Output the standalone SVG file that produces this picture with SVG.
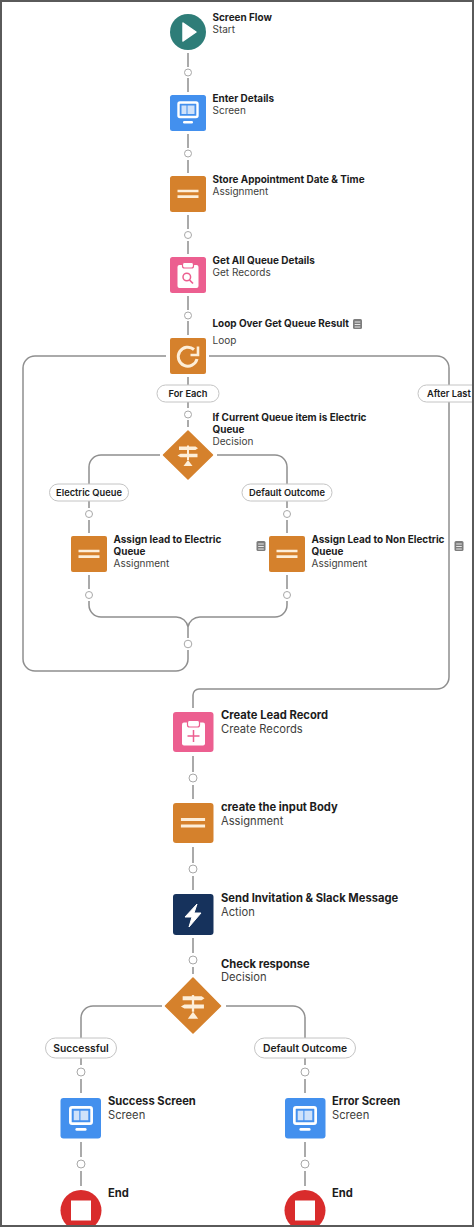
<svg xmlns="http://www.w3.org/2000/svg" width="474" height="1227" viewBox="0 0 474 1227">
<defs>
<style>
text{font-family:"Inter","Liberation Sans",sans-serif;fill:#1c1c1c}
.t{font-size:9.95px;font-weight:700}
.s{font-size:10px;fill:#3e3e3c}
.T{font-size:11.2px;font-weight:700}
.S{font-size:11.2px;fill:#3e3e3c}
.pl{font-size:9.3px;font-weight:600;text-anchor:middle}
.PL{font-size:10.3px;font-weight:600;text-anchor:middle}
.c{fill:none;stroke:#8f8f8f;stroke-width:1.5}
.d{fill:#fff;stroke:#a8a8a8;stroke-width:1}
.p{fill:#fff;stroke:#c4c4c4;stroke-width:1}
.w{fill:#fff}
.wl{fill:none;stroke:#fff;stroke-width:2.400}
.v{fill:#cfe2fa}
.o{fill:#d5812c}
.b{fill:#4390ee}
.k{fill:#ec5f90}
</style>
<g id="note"><rect x="0" y="0" width="9" height="10" rx="1.5" fill="#7d7d7d"/><path d="M1.7 3H7.3M1.7 5.5H7.3M1.7 8H7.3" stroke="#e8e8e8" stroke-width="1" fill="none"/></g>
<g id="ast"><path d="M-10.500 -3H10.500M-10.500 2.600H10.500" stroke="#fdeed8" stroke-width="2.600" fill="none"/></g>
<g id="scr"><rect x="-9.500" y="-9.500" width="19" height="14.500" rx="1.500" class="wl"/><rect x="-6.500" y="-6.500" width="5" height="8.500" class="v"/><rect x="-0.500" y="-6.500" width="7" height="8.500" class="v"/><rect x="-5" y="9" width="10" height="2.400" rx="1.200" class="w"/></g>
<g id="dec"><path d="M-1 -9.500H1V5H-1Z" fill="#fdeed8"/><path d="M-9 -8.500H7.500L10 -6.800L7.500 -5.100H-9ZM-7.500 -1.300H9.500V2.200H-7.500L-10.500 0.400Z" fill="#fdeed8"/><path d="M-4.500 11L0 5L4.500 11Z" fill="#fdeed8"/></g>
</defs>
<rect width="474" height="1227" fill="#fff"/>
<g id="connectors">
<path class="c" d="M188 53V67M188 78V92M188 134V148M188 160V173M188 215V229M188 241V254M188 296V310M188 321V335"/>
<path class="c" d="M166 356H35A12 12 0 0 0 23 368V659A12 12 0 0 0 35 671H176A12 12 0 0 0 188 659V650"/>
<path class="c" d="M209 356H437A12 12 0 0 1 449 368V677A12 12 0 0 1 437 689H199A6 6 0 0 0 193 695V708"/>
<path class="c" d="M188 377V385M188 402V408M188 420V427"/>
<path class="c" d="M160 455H101A12 12 0 0 0 89 467V484M217 455H275A12 12 0 0 1 287 467V484"/>
<path class="c" d="M89 501V508M89 520V533M287 501V508M287 520V533M89 575V589M89 601V605A12 12 0 0 0 101 617H176A12 12 0 0 1 188 627A12 12 0 0 1 200 617H275A12 12 0 0 0 287 605V601M287 575V589M188 627V638"/>
<path class="c" d="M193 756V772M193 785V799M193 847V863M193 876V890M193 938V953M193 967V974"/>
<path class="c" d="M162 1006H93A12 12 0 0 0 81 1018V1038M226 1006H293A12 12 0 0 1 305 1018V1038"/>
<path class="c" d="M81 1058V1065M81 1079V1093M305 1058V1065M305 1079V1093M81 1142V1157M81 1171V1186M305 1142V1157M305 1171V1186"/>
<g>
<circle class="d" cx="188" cy="72.500" r="3.500"/><circle class="d" cx="188" cy="153.500" r="3.500"/><circle class="d" cx="188" cy="235" r="3.500"/><circle class="d" cx="188" cy="315.500" r="3.500"/><circle class="d" cx="188" cy="414.500" r="3.500"/><circle class="d" cx="89" cy="514" r="3.500"/><circle class="d" cx="287" cy="514" r="3.500"/><circle class="d" cx="89" cy="595" r="3.500"/><circle class="d" cx="287" cy="595" r="3.500"/><circle class="d" cx="188" cy="644" r="3.800"/>
<circle class="d" cx="193" cy="778" r="4"/><circle class="d" cx="193" cy="869" r="4"/><circle class="d" cx="193" cy="960" r="4"/><circle class="d" cx="81" cy="1072" r="4"/><circle class="d" cx="305" cy="1072" r="4"/><circle class="d" cx="81" cy="1164" r="4"/><circle class="d" cx="305" cy="1164" r="4"/>
</g>
</g>
<g id="start"><circle cx="188" cy="32" r="18" fill="#2e7d78"/><path d="M183 23L196 32L183 41Z" class="w" stroke="#fff" stroke-width="1.500" stroke-linejoin="round"/><text class="t" x="212.500" y="20.500">Screen Flow</text><text class="s" x="212.500" y="32.500">Start</text></g>
<g id="enter-details"><rect x="170" y="95" width="36" height="36" rx="2.500" class="b"/><use href="#scr" x="188" y="112"/><text class="t" x="212.500" y="102">Enter Details</text><text class="s" x="212.500" y="114">Screen</text></g>
<g id="store-appointment"><rect x="170" y="176" width="36" height="36" rx="2.500" class="o"/><use href="#ast" x="188" y="194"/><text class="t" x="212.500" y="183">Store Appointment Date &amp; Time</text><text class="s" x="212.500" y="195">Assignment</text></g>
<g id="get-queue"><rect x="170" y="257" width="36" height="36" rx="2.500" class="k"/><rect x="177.500" y="265" width="21" height="23" rx="2" class="w"/><rect x="182.500" y="262.500" width="11" height="5.500" rx="2" class="w" stroke="#ec5f90" stroke-width="1.200"/><circle cx="186.800" cy="277" r="3.800" fill="none" stroke="#ec5f90" stroke-width="1.500"/><path d="M189.500 280L193 283.500" stroke="#ec5f90" stroke-width="1.700"/><text class="t" x="212.500" y="264">Get All Queue Details</text><text class="s" x="212.500" y="276">Get Records</text></g>
<g id="loop"><rect x="170" y="338" width="36" height="36" rx="2" class="o"/><path d="M197 359A9.500 9.500 0 1 1 194 349.500" fill="none" stroke="#fdeed8" stroke-width="3"/><path d="M198 346.500V355H190.500" fill="none" stroke="#fdeed8" stroke-width="2.600"/><text class="t" x="212.500" y="327">Loop Over Get Queue Result</text><use href="#note" x="353" y="319"/><text class="s" x="212.500" y="343.500">Loop</text></g>
<g id="for-each"><rect class="p" x="157" y="385" width="62" height="17" rx="8.500"/><text class="pl" x="188" y="397">For Each</text></g>
<g id="after-last"><rect class="p" x="418" y="385" width="70" height="17" rx="8.500"/><text class="pl" x="427" y="397" style="text-anchor:start">After Last</text></g>
<g id="queue-decision"><path d="M188 431L212.500 455L188 479L163.500 455Z" class="o" stroke="#d5812c" stroke-width="1.500" stroke-linejoin="round"/><use href="#dec" x="188" y="455"/><text class="t" x="212.500" y="421">If Current Queue item is Electric</text><text class="t" x="212.500" y="433">Queue</text><text class="s" x="212.500" y="445">Decision</text></g>
<g id="electric-pill"><rect class="p" x="49.500" y="484" width="79" height="17" rx="8.500"/><text class="pl" x="89" y="496">Electric Queue</text></g>
<g id="default-pill"><rect class="p" x="242" y="484" width="90" height="17" rx="8.500"/><text class="pl" x="287" y="496">Default Outcome</text></g>
<g id="assign-electric"><rect x="71" y="536" width="36" height="36" rx="2" class="o"/><use href="#ast" x="89" y="554"/><text class="t" x="113.500" y="543">Assign lead to Electric</text><text class="t" x="113.500" y="555">Queue</text><text class="s" x="113.500" y="567">Assignment</text></g>
<g id="assign-non-electric"><use href="#note" x="256.500" y="541"/><rect x="269" y="536" width="36" height="36" rx="2" class="o"/><use href="#ast" x="287" y="554"/><text class="t" x="311.500" y="543">Assign Lead to Non Electric</text><text class="t" x="311.500" y="555">Queue</text><text class="s" x="311.500" y="567">Assignment</text></g>
<use href="#note" x="454.500" y="541"/>
<g id="create-lead"><rect x="173" y="712" width="40.500" height="40" rx="3" class="k"/><rect x="182" y="722.500" width="23" height="23" rx="2" class="w"/><rect x="187.500" y="720.500" width="12" height="6.500" rx="2" class="w" stroke="#ec5f90" stroke-width="1.200"/><path d="M193.500 730V742M187.500 736H199.500" stroke="#ec5f90" stroke-width="1.500"/><text class="T" x="221" y="719">Create Lead Record</text><text class="S" x="221" y="733">Create Records</text></g>
<g id="input-body"><rect x="173" y="803" width="40.500" height="40" rx="3" class="o"/><use href="#ast" x="193" y="823" transform="translate(193 823) scale(1.150) translate(-193 -823)"/><text class="T" x="221" y="811">create the input Body</text><text class="S" x="221" y="825">Assignment</text></g>
<g id="send-invitation"><rect x="173" y="894" width="40.500" height="41" rx="3" fill="#16325c"/><path d="M197 904L185 917H192L189 927L201 913H194L197 904Z" class="w" stroke="#fff" stroke-width="1" stroke-linejoin="round"/><text class="T" x="221" y="902">Send Invitation &amp; Slack Message</text><text class="S" x="221" y="916">Action</text></g>
<g id="check-response"><path d="M193 978L220.500 1006L193 1033L165.500 1006Z" class="o" stroke="#d5812c" stroke-width="1.500" stroke-linejoin="round"/><use href="#dec" x="193" y="1006" transform="translate(193 1006) scale(1.150) translate(-193 -1006)"/><text class="T" x="221" y="968">Check response</text><text class="S" x="221" y="981">Decision</text></g>
<g id="successful-pill"><rect class="p" x="45.500" y="1038" width="71" height="20" rx="10"/><text class="PL" x="81" y="1052">Successful</text></g>
<g id="default-pill-2"><rect class="p" x="254.500" y="1038" width="101" height="20" rx="10"/><text class="PL" x="305" y="1052">Default Outcome</text></g>
<g id="success-screen"><rect x="60.500" y="1098" width="40.500" height="40.500" rx="3" class="b"/><use href="#scr" x="81" y="1118" transform="translate(81 1118) scale(1.120) translate(-81 -1118)"/><text class="T" x="108" y="1105">Success Screen</text><text class="S" x="108" y="1119">Screen</text></g>
<g id="error-screen"><rect x="285" y="1098" width="40.500" height="40.500" rx="3" class="b"/><use href="#scr" x="305" y="1118" transform="translate(305 1118) scale(1.120) translate(-305 -1118)"/><text class="T" x="332" y="1105">Error Screen</text><text class="S" x="332" y="1119">Screen</text></g>
<g id="end-1"><circle cx="81" cy="1210.500" r="20.500" fill="#d92c2c"/><rect x="71" y="1200.500" width="20" height="20" class="w"/><text class="T" x="108" y="1197">End</text></g>
<g id="end-2"><circle cx="305" cy="1210.500" r="20.500" fill="#d92c2c"/><rect x="295" y="1200.500" width="20" height="20" class="w"/><text class="T" x="332" y="1197">End</text></g>
<path id="frame" d="M0 0H474V1227H0ZM2 2V1225H472V2Z" fill-rule="evenodd" fill="#5a5a5a"/>
</svg>
